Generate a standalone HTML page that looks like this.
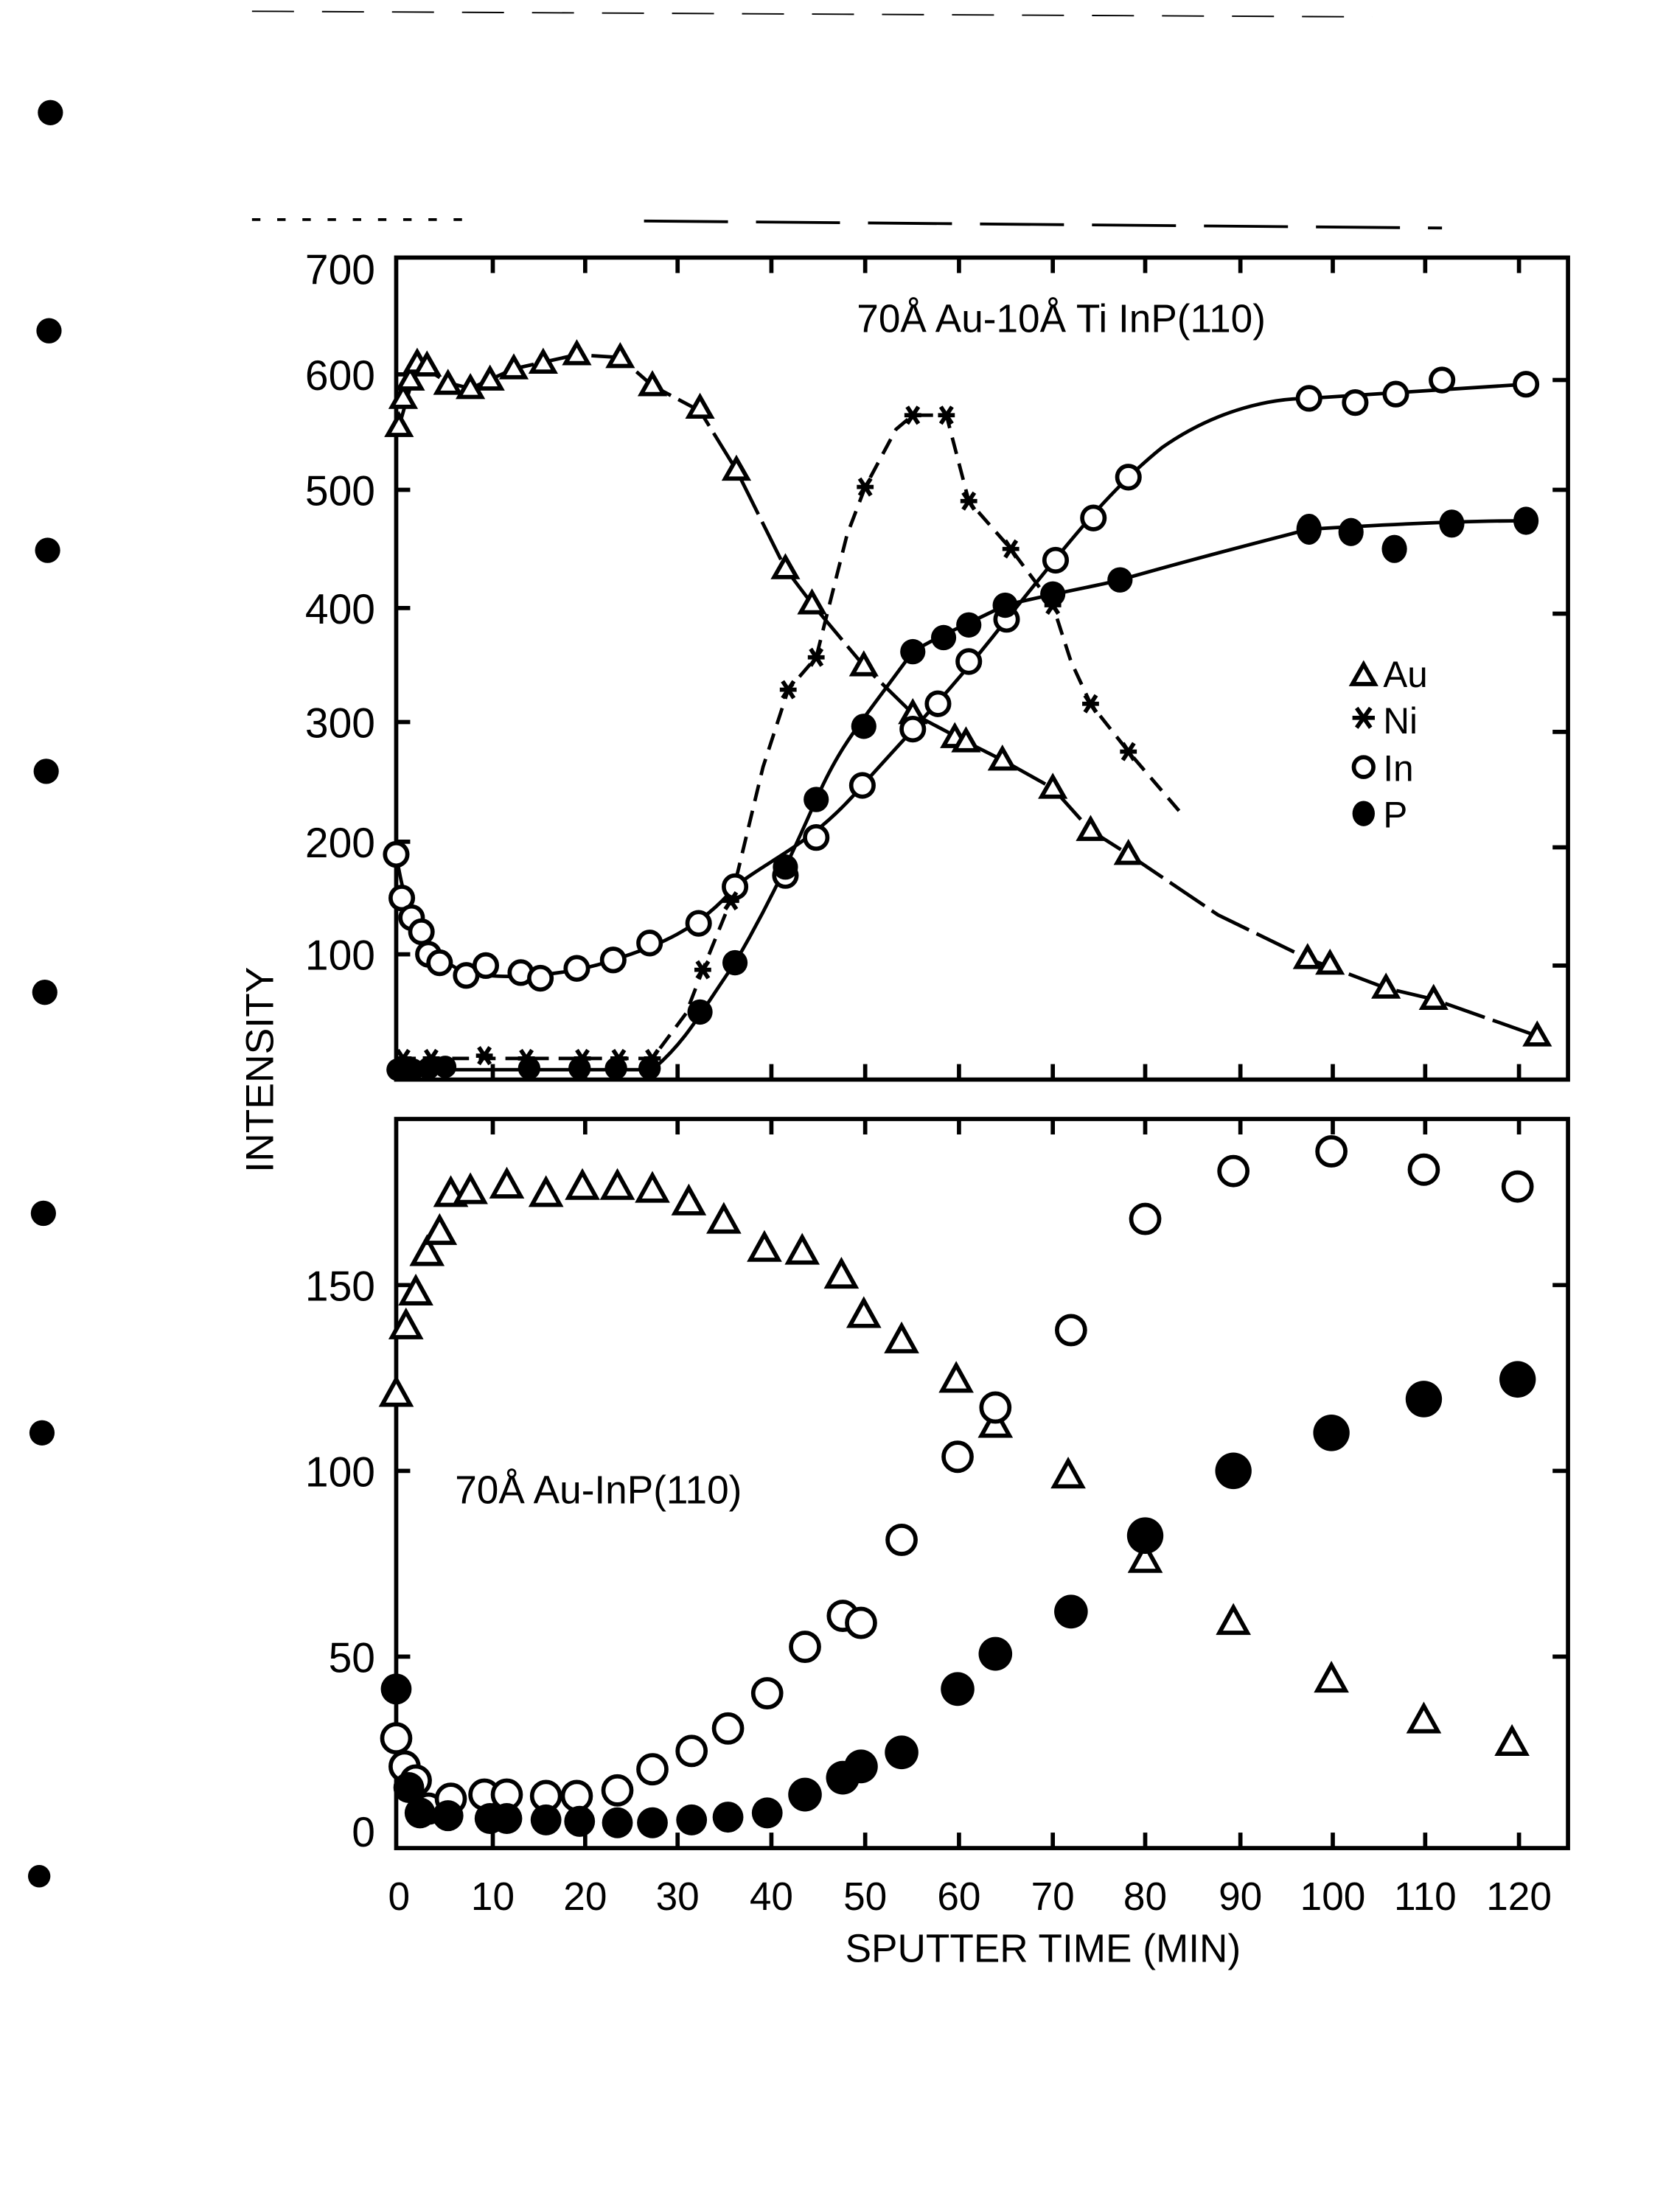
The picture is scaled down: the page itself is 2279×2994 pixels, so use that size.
<!DOCTYPE html>
<html><head><style>html,body{margin:0;padding:0;background:#fff}svg{display:block}</style></head>
<body>
<svg width="2279" height="2994" viewBox="0 0 1200 1568" preserveAspectRatio="none" xmlns="http://www.w3.org/2000/svg" font-family="Liberation Sans, sans-serif">
<rect width="1200" height="1568" fill="#fff"/>
<!-- binder holes -->
<g fill="#000">
<circle cx="36" cy="80" r="9"/><circle cx="35" cy="235" r="9"/><circle cx="34" cy="391" r="9"/><circle cx="33" cy="548" r="9"/><circle cx="32" cy="705" r="9"/><circle cx="31" cy="862" r="9"/><circle cx="30" cy="1018" r="9"/><circle cx="28" cy="1333" r="8"/>
</g>
<g stroke="#000" stroke-width="2" fill="none">
<line x1="180" y1="156" x2="340" y2="156" stroke-dasharray="6,12"/>
<line x1="460" y1="157" x2="1030" y2="162" stroke-dasharray="60,20"/>
<line x1="180" y1="8" x2="980" y2="12" stroke-width="1" stroke-dasharray="30,20"/>
</g>
<!-- panels -->
<g stroke="#000" stroke-width="3" fill="none">
<rect x="283" y="183" width="837" height="584"/>
<rect x="283" y="795" width="837" height="518"/>
</g>
<!-- ticks -->
<g stroke="#000" stroke-width="3">
<line x1="352" y1="183" x2="352" y2="194"/><line x1="418" y1="183" x2="418" y2="194"/><line x1="484" y1="183" x2="484" y2="194"/><line x1="551" y1="183" x2="551" y2="194"/><line x1="618" y1="183" x2="618" y2="194"/><line x1="685" y1="183" x2="685" y2="194"/><line x1="752" y1="183" x2="752" y2="194"/><line x1="818" y1="183" x2="818" y2="194"/><line x1="886" y1="183" x2="886" y2="194"/><line x1="952" y1="183" x2="952" y2="194"/><line x1="1018" y1="183" x2="1018" y2="194"/><line x1="1085" y1="183" x2="1085" y2="194"/>
<line x1="352" y1="767" x2="352" y2="756"/><line x1="418" y1="767" x2="418" y2="756"/><line x1="484" y1="767" x2="484" y2="756"/><line x1="551" y1="767" x2="551" y2="756"/><line x1="618" y1="767" x2="618" y2="756"/><line x1="685" y1="767" x2="685" y2="756"/><line x1="752" y1="767" x2="752" y2="756"/><line x1="818" y1="767" x2="818" y2="756"/><line x1="886" y1="767" x2="886" y2="756"/><line x1="952" y1="767" x2="952" y2="756"/><line x1="1018" y1="767" x2="1018" y2="756"/><line x1="1085" y1="767" x2="1085" y2="756"/>
<line x1="352" y1="795" x2="352" y2="806"/><line x1="418" y1="795" x2="418" y2="806"/><line x1="484" y1="795" x2="484" y2="806"/><line x1="551" y1="795" x2="551" y2="806"/><line x1="618" y1="795" x2="618" y2="806"/><line x1="685" y1="795" x2="685" y2="806"/><line x1="752" y1="795" x2="752" y2="806"/><line x1="818" y1="795" x2="818" y2="806"/><line x1="886" y1="795" x2="886" y2="806"/><line x1="952" y1="795" x2="952" y2="806"/><line x1="1018" y1="795" x2="1018" y2="806"/><line x1="1085" y1="795" x2="1085" y2="806"/>
<line x1="352" y1="1313" x2="352" y2="1302"/><line x1="418" y1="1313" x2="418" y2="1302"/><line x1="484" y1="1313" x2="484" y2="1302"/><line x1="551" y1="1313" x2="551" y2="1302"/><line x1="618" y1="1313" x2="618" y2="1302"/><line x1="685" y1="1313" x2="685" y2="1302"/><line x1="752" y1="1313" x2="752" y2="1302"/><line x1="818" y1="1313" x2="818" y2="1302"/><line x1="886" y1="1313" x2="886" y2="1302"/><line x1="952" y1="1313" x2="952" y2="1302"/><line x1="1018" y1="1313" x2="1018" y2="1302"/><line x1="1085" y1="1313" x2="1085" y2="1302"/>
<line x1="1120" y1="270" x2="1109" y2="270"/><line x1="1120" y1="348" x2="1109" y2="348"/><line x1="1120" y1="436" x2="1109" y2="436"/><line x1="1120" y1="520" x2="1109" y2="520"/><line x1="1120" y1="602" x2="1109" y2="602"/><line x1="1120" y1="686" x2="1109" y2="686"/>
<line x1="283" y1="266" x2="293" y2="266"/><line x1="283" y1="348" x2="293" y2="348"/><line x1="283" y1="432" x2="293" y2="432"/><line x1="283" y1="513" x2="293" y2="513"/><line x1="283" y1="598" x2="293" y2="598"/><line x1="283" y1="678" x2="293" y2="678"/>
<line x1="283" y1="913" x2="293" y2="913"/><line x1="283" y1="1045" x2="293" y2="1045"/><line x1="283" y1="1177" x2="293" y2="1177"/>
<line x1="1120" y1="913" x2="1109" y2="913"/><line x1="1120" y1="1045" x2="1109" y2="1045"/><line x1="1120" y1="1177" x2="1109" y2="1177"/>
</g>
<!-- labels -->
<g font-size="30" fill="#000" text-anchor="end">
<text x="268" y="202">700</text><text x="268" y="277">600</text><text x="268" y="359">500</text><text x="268" y="443">400</text><text x="268" y="524">300</text><text x="268" y="609">200</text><text x="268" y="689">100</text>
<text x="268" y="924">150</text><text x="268" y="1056">100</text><text x="268" y="1188">50</text><text x="268" y="1312">0</text>
</g>
<g font-size="28" fill="#000" text-anchor="middle">
<text x="285" y="1357">0</text><text x="352" y="1357">10</text><text x="418" y="1357">20</text><text x="484" y="1357">30</text><text x="551" y="1357">40</text><text x="618" y="1357">50</text><text x="685" y="1357">60</text><text x="752" y="1357">70</text><text x="818" y="1357">80</text><text x="886" y="1357">90</text><text x="952" y="1357">100</text><text x="1018" y="1357">110</text><text x="1085" y="1357">120</text>
<text x="745" y="1394" font-size="28">SPUTTER TIME (MIN)</text>
</g>
<text x="0" y="0" font-size="28" text-anchor="middle" transform="translate(195,760) rotate(-90)">INTENSITY</text>
<text x="612" y="236" font-size="28">70Å Au-10Å Ti InP(110)</text>
<text x="325" y="1068" font-size="28">70Å Au-InP(110)</text>
<g font-size="26">
<text x="988" y="488">Au</text><text x="988" y="521">Ni</text><text x="988" y="555">In</text><text x="988" y="588">P</text>
</g>
<g stroke="#000" stroke-width="3" fill="none">
<polygon points="966,486 974,472 982,486"/>
<circle cx="974" cy="545" r="7"/>
<path d="M966,510 l16,0 M969,503 l10,14 M979,503 l-10,14"/>
</g>
<ellipse cx="974" cy="578" rx="8" ry="9" fill="#000"/>
<!-- top curves -->
<g stroke="#000" stroke-width="2.5" fill="none">
<path d="M285,303 L298,258 L320,272 L336,276 L367,262 L412,252 L443,254 L466,274 L500,292 L526,334 L561,404 L580,429 L617,473 L652,507 L690,527 L716,540 L752,560 L779,590 L806,607 L870,650 L934,681 L990,702 L1024,710 L1098,736" stroke-dasharray="30,6"/>
<path d="M285,752 L466,752 L490,720 L502,689 L522,640 L545,545 L563,490 L583,467 L605,380 L618,346 L640,305 L652,295 L676,295 L692,356 L722,390 L752,430 L765,470 L779,500 L806,534 L843,577" stroke-dasharray="12,7"/>
<path d="M283,607 C290,650 300,675 330,690 C360,698 410,692 438,682 C470,672 500,660 525,630 C550,610 580,600 616,558 C650,520 680,490 719,440 C760,390 790,350 830,318 C870,290 910,283 935,283 L1090,273"/>
<path d="M283,760 L466,760 C490,740 500,720 525,684 C545,650 560,620 583,568 C600,530 610,520 652,463 C670,452 690,444 718,430 C760,420 790,415 800,412 C860,395 900,385 935,376 C1000,372 1050,370 1090,370"/>
</g>
<g stroke="#000" stroke-width="3" fill="#fff">
<!-- Au top triangles -->
<g id="tri">
<polygon points="277,309 285,295 293,309"/><polygon points="280,289 288,275 296,289"/><polygon points="285,276 293,262 301,276"/><polygon points="290,264 298,250 306,264"/><polygon points="297,266 305,252 313,266"/><polygon points="312,279 320,265 328,279"/><polygon points="328,282 336,268 344,282"/><polygon points="342,276 350,262 358,276"/><polygon points="359,268 367,254 375,268"/><polygon points="380,264 388,250 396,264"/><polygon points="404,258 412,244 420,258"/><polygon points="435,260 443,246 451,260"/><polygon points="458,280 466,266 474,280"/><polygon points="492,296 500,282 508,296"/><polygon points="518,340 526,326 534,340"/><polygon points="553,410 561,396 569,410"/><polygon points="572,435 580,421 588,435"/><polygon points="609,479 617,465 625,479"/><polygon points="644,513 652,499 660,513"/><polygon points="674,530 682,516 690,530"/><polygon points="682,533 690,519 698,533"/><polygon points="708,546 716,532 724,546"/><polygon points="744,566 752,552 760,566"/><polygon points="771,596 779,582 787,596"/><polygon points="798,613 806,599 814,613"/><polygon points="926,687 934,673 942,687"/><polygon points="942,691 950,677 958,691"/><polygon points="982,708 990,694 998,708"/><polygon points="1016,716 1024,702 1032,716"/><polygon points="1090,742 1098,728 1106,742"/>
</g>
<!-- In top -->
<circle cx="283" cy="607" r="8"/><circle cx="287" cy="638" r="8"/><circle cx="294" cy="652" r="8"/><circle cx="301" cy="662" r="8"/><circle cx="306" cy="678" r="8"/><circle cx="314" cy="684" r="8"/><circle cx="333" cy="693" r="8"/><circle cx="347" cy="686" r="8"/><circle cx="372" cy="691" r="8"/><circle cx="386" cy="695" r="8"/><circle cx="412" cy="688" r="8"/><circle cx="438" cy="682" r="8"/><circle cx="464" cy="670" r="8"/><circle cx="499" cy="656" r="8"/><circle cx="525" cy="630" r="8"/><circle cx="561" cy="622" r="8"/><circle cx="583" cy="595" r="8"/><circle cx="616" cy="558" r="8"/><circle cx="652" cy="518" r="8"/><circle cx="670" cy="500" r="8"/><circle cx="692" cy="470" r="8"/><circle cx="719" cy="440" r="8"/><circle cx="754" cy="398" r="8"/><circle cx="781" cy="368" r="8"/><circle cx="806" cy="339" r="8"/><circle cx="935" cy="283" r="8"/><circle cx="968" cy="286" r="8"/><circle cx="997" cy="280" r="8"/><circle cx="1030" cy="270" r="8"/><circle cx="1090" cy="273" r="8"/>
</g>
<!-- Ni stars -->
<g stroke="#000" stroke-width="3">
<path d="M282,752 l12,0 M284,746 l8,12 M292,746 l-8,12 M302,752 l12,0 M304,746 l8,12 M312,746 l-8,12 M340,750 l12,0 M342,744 l8,12 M350,744 l-8,12 M370,752 l12,0 M372,746 l8,12 M380,746 l-8,12 M410,752 l12,0 M412,746 l8,12 M420,746 l-8,12 M436,752 l12,0 M438,746 l8,12 M446,746 l-8,12 M460,752 l12,0 M462,746 l8,12 M470,746 l-8,12"/>
<path d="M496,689 l12,0 M498,683 l8,12 M506,683 l-8,12 M516,640 l12,0 M518,634 l8,12 M526,634 l-8,12 M557,490 l12,0 M559,484 l8,12 M567,484 l-8,12 M577,467 l12,0 M579,461 l8,12 M587,461 l-8,12 M612,346 l12,0 M614,340 l8,12 M622,340 l-8,12 M646,295 l12,0 M648,289 l8,12 M656,289 l-8,12 M670,295 l12,0 M672,289 l8,12 M680,289 l-8,12 M686,356 l12,0 M688,350 l8,12 M696,350 l-8,12 M716,390 l12,0 M718,384 l8,12 M726,384 l-8,12 M746,430 l12,0 M748,424 l8,12 M756,424 l-8,12 M773,500 l12,0 M775,494 l8,12 M783,494 l-8,12 M800,534 l12,0 M802,528 l8,12 M810,528 l-8,12"/>
</g>
<!-- P top -->
<g fill="#000">
<circle cx="284" cy="760" r="8"/><circle cx="295" cy="760" r="8"/><circle cx="306" cy="759" r="8"/><circle cx="318" cy="758" r="8"/><circle cx="378" cy="759" r="8"/><circle cx="414" cy="759" r="8"/><circle cx="440" cy="759" r="8"/><circle cx="464" cy="759" r="8"/>
<circle cx="500" cy="719" r="9"/><circle cx="525" cy="684" r="9"/><circle cx="561" cy="616" r="9"/><circle cx="583" cy="568" r="9"/><circle cx="617" cy="516" r="9"/><circle cx="652" cy="463" r="9"/><circle cx="674" cy="453" r="9"/><circle cx="692" cy="444" r="9"/><circle cx="718" cy="430" r="9"/><circle cx="752" cy="422" r="9"/><circle cx="800" cy="412" r="9"/><ellipse cx="935" cy="376" rx="9" ry="11"/><ellipse cx="965" cy="378" rx="9" ry="10"/><ellipse cx="996" cy="390" rx="9" ry="10"/><ellipse cx="1037" cy="372" rx="9" ry="10"/><ellipse cx="1090" cy="370" rx="9" ry="10"/>
</g>
<!-- bottom -->
<g stroke="#000" stroke-width="3" fill="#fff">
<polygon points="273,998 283,980 293,998"/><polygon points="280,950 290,932 300,950"/><polygon points="287,926 297,908 307,926"/><polygon points="295,898 305,880 315,898"/><polygon points="304,883 314,865 324,883"/><polygon points="312,856 322,838 332,856"/><polygon points="326,854 336,836 346,854"/><polygon points="352,850 362,832 372,850"/><polygon points="380,856 390,838 400,856"/><polygon points="406,851 416,833 426,851"/><polygon points="431,851 441,833 451,851"/><polygon points="456,853 466,835 476,853"/><polygon points="482,862 492,844 502,862"/><polygon points="507,875 517,857 527,875"/><polygon points="536,895 546,877 556,895"/><polygon points="563,897 573,879 583,897"/><polygon points="591,914 601,896 611,914"/><polygon points="607,942 617,924 627,942"/><polygon points="634,960 644,942 654,960"/><polygon points="673,988 683,970 693,988"/><polygon points="701,1020 711,1002 721,1020"/><polygon points="753,1056 763,1038 773,1056"/><polygon points="808,1116 818,1098 828,1116"/><polygon points="871,1160 881,1142 891,1160"/><polygon points="941,1201 951,1183 961,1201"/><polygon points="1007,1230 1017,1212 1027,1230"/><polygon points="1070,1246 1080,1228 1090,1246"/>
<circle cx="283" cy="1235" r="10"/><circle cx="289" cy="1255" r="10"/><circle cx="297" cy="1265" r="10"/><circle cx="306" cy="1285" r="10"/><circle cx="322" cy="1278" r="10"/><circle cx="346" cy="1275" r="10"/><circle cx="362" cy="1275" r="10"/><circle cx="390" cy="1276" r="10"/><circle cx="412" cy="1276" r="10"/><circle cx="441" cy="1272" r="10"/><circle cx="466" cy="1257" r="10"/><circle cx="494" cy="1244" r="10"/><circle cx="520" cy="1228" r="10"/><circle cx="548" cy="1203" r="10"/><circle cx="575" cy="1170" r="10"/><circle cx="602" cy="1148" r="10"/><circle cx="615" cy="1153" r="10"/><circle cx="644" cy="1094" r="10"/><circle cx="684" cy="1035" r="10"/><circle cx="711" cy="1000" r="10"/><circle cx="765" cy="945" r="10"/><circle cx="818" cy="866" r="10"/><circle cx="881" cy="832" r="10"/><circle cx="951" cy="818" r="10"/><circle cx="1017" cy="831" r="10"/><circle cx="1084" cy="843" r="10"/>
</g>
<g fill="#000">
<circle cx="283" cy="1200" r="11"/><circle cx="292" cy="1270" r="11"/><circle cx="300" cy="1288" r="11"/><circle cx="320" cy="1290" r="11"/><circle cx="350" cy="1292" r="11"/><circle cx="362" cy="1292" r="11"/><circle cx="390" cy="1293" r="11"/><circle cx="414" cy="1294" r="11"/><circle cx="441" cy="1295" r="11"/><circle cx="466" cy="1295" r="11"/><circle cx="494" cy="1293" r="11"/><circle cx="520" cy="1291" r="11"/><circle cx="548" cy="1288" r="11"/><circle cx="575" cy="1275" r="12"/><circle cx="602" cy="1263" r="12"/><circle cx="615" cy="1255" r="12"/><circle cx="644" cy="1245" r="12"/><circle cx="684" cy="1200" r="12"/><circle cx="711" cy="1175" r="12"/><circle cx="765" cy="1145" r="12"/><circle cx="818" cy="1091" r="13"/><circle cx="881" cy="1045" r="13"/><circle cx="951" cy="1018" r="13"/><circle cx="1017" cy="994" r="13"/><circle cx="1084" cy="980" r="13"/>
</g>
</svg>
</body></html>
